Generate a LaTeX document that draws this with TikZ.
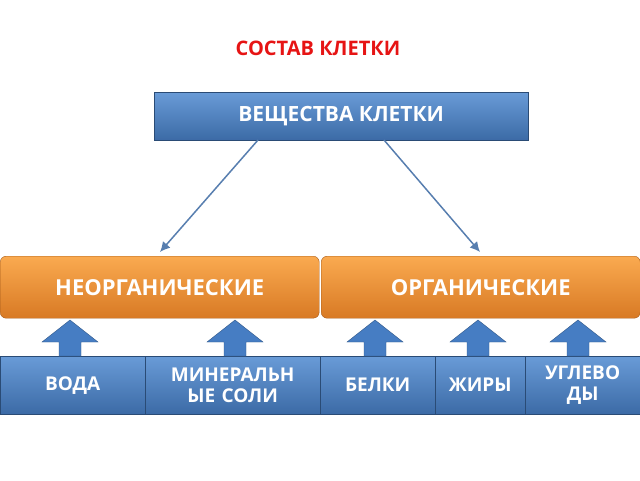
\documentclass[tikz,border=0pt]{standalone}
\usepackage{fontspec}
\usetikzlibrary{arrows.meta}
\setmainfont{Open Sans}
\definecolor{bluebox}{RGB}{70,125,195}
\definecolor{bluetop}{RGB}{105,155,215}
\definecolor{orangebox}{RGB}{240,135,40}
\definecolor{orangetop}{RGB}{250,170,80}
\definecolor{titlered}{RGB}{230,20,20}
\begin{document}
\begin{tikzpicture}[x=1pt,y=-1pt,
  bluenode/.style={draw=bluebox!60!black,top color=bluetop,bottom color=bluebox!85!black,text=white,font=\bfseries\fontsize{19}{20}\selectfont,inner sep=0pt,align=center,anchor=north west},
  orangenode/.style={draw=orangebox!70!black,rounded corners=6pt,top color=orangetop,bottom color=orangebox!90!black,text=white,font=\bfseries\fontsize{22}{24}\selectfont,inner sep=0pt,anchor=north west},
  link/.style={draw=bluebox!70!gray,line width=1.5pt,-{Latex[length=10pt,width=10pt]}},
  uparrow/.style={fill=bluebox,draw=bluebox!70!black}]
\useasboundingbox (0,0) rectangle (640,480);
\node[text=titlered,font=\bfseries\fontsize{20}{22}\selectfont] (title) at (318,48) {СОСТАВ КЛЕТКИ};
\node[bluenode,minimum width=374pt,minimum height=48pt,font=\bfseries\fontsize{21}{22}\selectfont] (top) at (154,92) {ВЕЩЕСТВА КЛЕТКИ};
\node[orangenode,minimum width=319pt,minimum height=62pt] (inorg) at (0,256) {НЕОРГАНИЧЕСКИЕ};
\node[orangenode,minimum width=319pt,minimum height=62pt] (org) at (321,256) {ОРГАНИЧЕСКИЕ};
\coordinate (t1) at (258,140); \coordinate (t2) at (384,140);
\coordinate (i1) at (160,252); \coordinate (o1) at (480,252);
\draw[link] (t1) -- (i1);
\draw[link] (t2) -- (o1);
\node[bluenode,minimum width=145pt,minimum height=58pt] (voda) at (0,356) {ВОДА};
\node[bluenode,minimum width=175pt,minimum height=58pt,text width=170pt,font=\bfseries\fontsize{19}{21}\selectfont] (min) at (145,356) {МИНЕРАЛЬН\\ЫЕ СОЛИ};
\node[bluenode,minimum width=115pt,minimum height=58pt] (belki) at (320,356) {БЕЛКИ};
\node[bluenode,minimum width=90pt,minimum height=58pt] (zhiry) at (435,356) {ЖИРЫ};
\node[bluenode,minimum width=115pt,minimum height=58pt,text width=110pt,font=\bfseries\fontsize{19}{21}\selectfont] (ugl) at (525,356) {УГЛЕВО\\ДЫ};
\foreach \cx in {70,235,375,478,578}{
  \path[uparrow] (\cx-11,356) -- (\cx-11,342) -- (\cx-28,342) -- (\cx,320) -- (\cx+28,342) -- (\cx+11,342) -- (\cx+11,356) -- cycle;
}
\end{tikzpicture}
\end{document}
